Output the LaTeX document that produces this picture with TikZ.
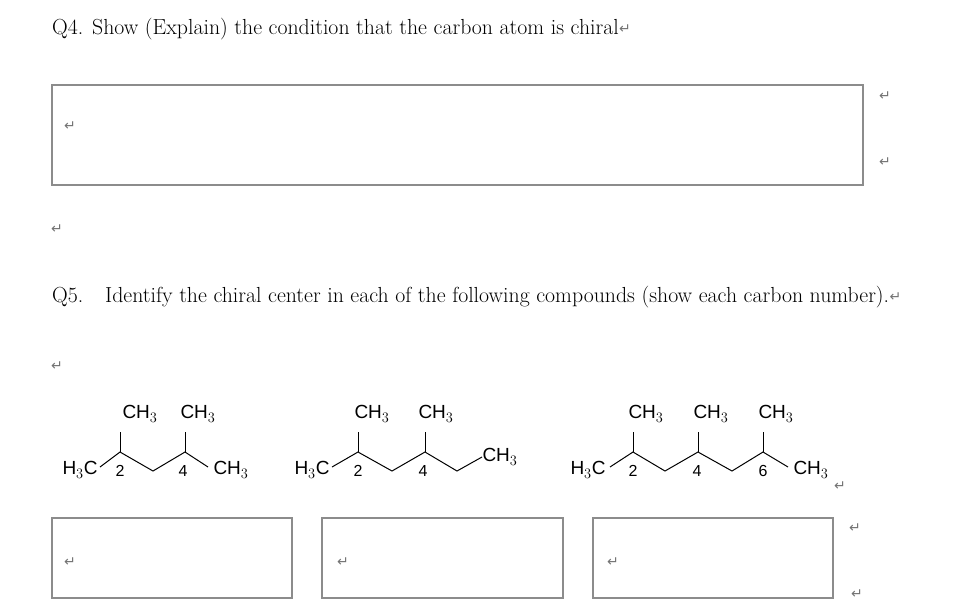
\documentclass[tikz,border=0pt]{standalone}
\usepackage{fontspec}
\newfontfamily\chemfont{Liberation Sans}
\newfontfamily\retfont{DejaVu Sans}
\begin{document}
\begin{tikzpicture}[x=1pt,y=-1pt,
  txt/.style={anchor=west,inner sep=0pt,font=\fontsize{21.8}{24}\selectfont},
  ansbox/.style={draw=black!45,line width=1.5pt},
  ret/.style={inner sep=0pt,font=\retfont\fontsize{14}{15}\selectfont,text=black!55},
  lab/.style={inner sep=0pt,font=\chemfont\fontsize{19}{21}\selectfont},
  num/.style={inner sep=0pt,font=\chemfont\fontsize{16}{18}\selectfont},
  bond/.style={line width=1pt}]
\useasboundingbox (0,0) rectangle (960,614);
\node[txt] (q4) at (52,29) {Q4. Show (Explain) the condition that the carbon atom is chiral};
\node[ret,anchor=west] (r0) at (q4.east) {↵};
\draw[ansbox] (52,85) rectangle (863,185);
\node[ret] (r1) at (70,126) {↵};
\node[ret] (r2) at (885,96) {↵};
\node[ret] (r3) at (885,162) {↵};
\node[ret] (r4) at (57,229) {↵};
\node[txt] (q5) at (52,297) {Q5.};
\node[txt] (q5t) at (105,297) {Identify the chiral center in each of the following compounds (show each carbon number).};
\node[ret,anchor=west] (r5) at (q5t.east) {↵};
\node[ret] (r6) at (57,366) {↵};
% molecule 1
\coordinate (a1) at (100,467); \coordinate (a2) at (120,452); \coordinate (a3) at (153,471);
\coordinate (a4) at (185,452); \coordinate (a5) at (208,467);
\coordinate (a2u) at (120,432); \coordinate (a4u) at (185,432);
\draw[bond] (a1)--(a2)--(a3)--(a4)--(a5); \draw[bond] (a2)--(a2u); \draw[bond] (a4)--(a4u);
\node[lab] (m1a) at (80,470) {H$_3$C};
\node[lab] (m1b) at (140,414) {CH$_3$};
\node[lab] (m1c) at (198,414) {CH$_3$};
\node[lab] (m1d) at (231,470) {CH$_3$};
\node[num] (m1n2) at (120,471) {2};
\node[num] (m1n4) at (183,471) {4};
% molecule 2
\coordinate (b1) at (332,467); \coordinate (b2) at (358,452); \coordinate (b3) at (392,471);
\coordinate (b4) at (425,452); \coordinate (b5) at (457,471); \coordinate (b6) at (482,457);
\coordinate (b2u) at (358,432); \coordinate (b4u) at (425,432);
\draw[bond] (b1)--(b2)--(b3)--(b4)--(b5)--(b6); \draw[bond] (b2)--(b2u); \draw[bond] (b4)--(b4u);
\node[lab] (m2a) at (312,470) {H$_3$C};
\node[lab] (m2b) at (372,414) {CH$_3$};
\node[lab] (m2c) at (436,414) {CH$_3$};
\node[lab] (m2d) at (500,457) {CH$_3$};
\node[num] (m2n2) at (358,471) {2};
\node[num] (m2n4) at (423,471) {4};
% molecule 3
\coordinate (c1) at (610,467); \coordinate (c2) at (633,452); \coordinate (c3) at (665,471);
\coordinate (c4) at (698,452); \coordinate (c5) at (732,471); \coordinate (c6) at (763,452);
\coordinate (c7) at (788,467);
\coordinate (c2u) at (633,432); \coordinate (c4u) at (698,432); \coordinate (c6u) at (763,432);
\draw[bond] (c1)--(c2)--(c3)--(c4)--(c5)--(c6)--(c7);
\draw[bond] (c2)--(c2u); \draw[bond] (c4)--(c4u); \draw[bond] (c6)--(c6u);
\node[lab] (m3a) at (588,470) {H$_3$C};
\node[lab] (m3b) at (646,414) {CH$_3$};
\node[lab] (m3c) at (711,414) {CH$_3$};
\node[lab] (m3d) at (776,414) {CH$_3$};
\node[lab] (m3e) at (811,470) {CH$_3$};
\node[num] (m3n2) at (633,471) {2};
\node[num] (m3n4) at (697,471) {4};
\node[num] (m3n6) at (763,471) {6};
\node[ret] (r7) at (840,486) {↵};
\draw[ansbox] (52,518) rectangle (292,598);
\draw[ansbox] (322,518) rectangle (563,598);
\draw[ansbox] (593,518) rectangle (833,598);
\node[ret] (r8) at (855,528) {↵};
\node[ret] (r9) at (70,562) {↵};
\node[ret] (r10) at (343,562) {↵};
\node[ret] (r11) at (613,562) {↵};
\node[ret] (r12) at (857,594) {↵};
\end{tikzpicture}
\end{document}
